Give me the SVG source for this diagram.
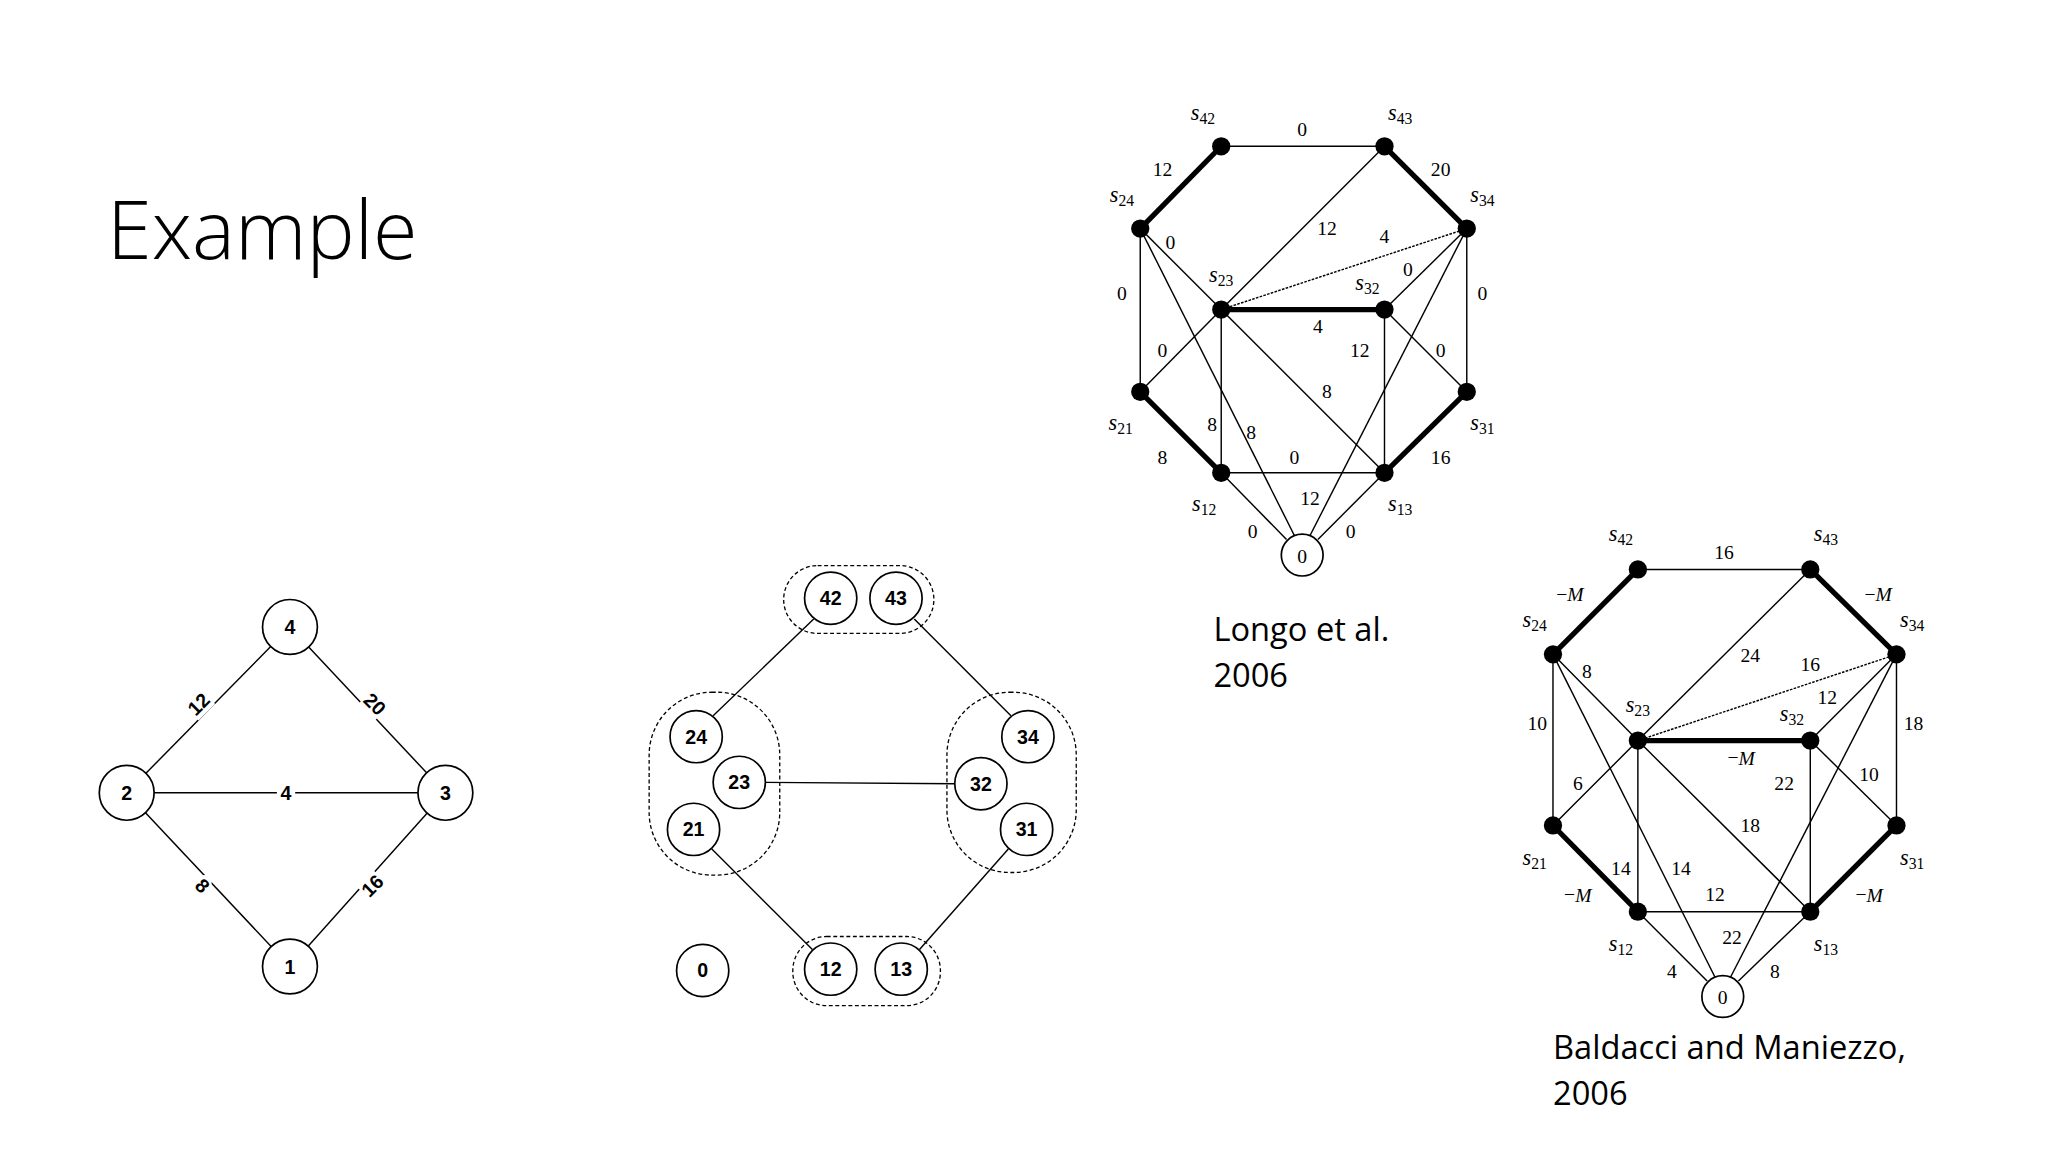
<svg xmlns="http://www.w3.org/2000/svg" width="2048" height="1152" viewBox="0 0 2048 1152">
<style>
.t{font-family:"Open Sans","Liberation Sans",sans-serif;fill:#000}
.c{fill:#fff;stroke:#000;stroke-width:1.3}
.b{font-family:"Liberation Sans",Arial,sans-serif;font-weight:bold;font-size:15px;text-anchor:middle;dominant-baseline:central}
.e{stroke:#000;stroke-width:1.1;fill:none}
.k{stroke:#000;stroke-width:4;fill:none}
.d{fill:none;stroke:#000;stroke-width:1;stroke-dasharray:3 2}
.n{font-family:"Liberation Serif","DejaVu Serif",serif;font-size:15px;text-anchor:middle;dominant-baseline:central}
.s{font-family:"Liberation Serif","DejaVu Serif",serif;font-style:italic;font-size:17px;text-anchor:middle}
.s tspan{font-style:normal;font-size:12px}
.dot{fill:#000}
</style>
<rect width="2048" height="1152" fill="#fff"/>
<g transform="scale(1.30612)">
<text class="t" x="82" y="198" font-size="62" font-weight="300">Example</text>

<!-- left graph -->
<g id="conn-left">
<line class="e" x1="222" y1="480" x2="97" y2="607"/><line class="e" x1="222" y1="480" x2="341" y2="607"/>
<line class="e" x1="97" y1="607" x2="341" y2="607"/><line class="e" x1="97" y1="607" x2="222" y2="740"/>
<line class="e" x1="341" y1="607" x2="222" y2="740"/>
<g fill="#fff"><rect x="143" y="530" width="18" height="18" transform="rotate(-45 152 539)"/><rect x="278" y="530" width="18" height="18" transform="rotate(45 287 539)"/><rect x="212" y="599" width="14" height="16"/><rect x="148" y="670" width="14" height="16"/><rect x="276" y="669" width="18" height="18" transform="rotate(-45 285 678)"/></g>
<text class="b" transform="translate(152 539) rotate(-45)">12</text>
<text class="b" transform="translate(287 539) rotate(45)">20</text>
<text class="b" x="219" y="607">4</text>
<text class="b" transform="translate(155 678) rotate(45)">8</text>
<text class="b" transform="translate(285 678) rotate(-45)">16</text>
</g>
<g id="n4"><circle class="c" cx="222" cy="480" r="21"/><text class="b" x="222" y="480">4</text></g>
<g id="n2"><circle class="c" cx="97" cy="607" r="21"/><text class="b" x="97" y="607">2</text></g>
<g id="n3"><circle class="c" cx="341" cy="607" r="21"/><text class="b" x="341" y="607">3</text></g>
<g id="n1"><circle class="c" cx="222" cy="740" r="21"/><text class="b" x="222" y="740">1</text></g>

<!-- middle graph -->
<g id="clusters">
<rect class="d" x="600" y="433" width="115" height="52" rx="26"/>
<rect class="d" x="607" y="717" width="113" height="53" rx="26"/>
<rect class="d" x="497" y="530" width="100" height="140" rx="48"/>
<rect class="d" x="725" y="530" width="99" height="138" rx="48"/>
</g>
<g id="conn-mid">
<line class="e" x1="623" y1="474" x2="546" y2="548"/>
<line class="e" x1="700" y1="474" x2="774" y2="548"/>
<line class="e" x1="586" y1="599" x2="731" y2="600"/>
<line class="e" x1="545" y1="650" x2="622" y2="727"/>
<line class="e" x1="772" y1="650" x2="704" y2="727"/>
</g>
<g id="m42"><circle class="c" cx="636" cy="458" r="20"/><text class="b" x="636" y="458">42</text></g>
<g id="m43"><circle class="c" cx="686" cy="458" r="20"/><text class="b" x="686" y="458">43</text></g>
<g id="m24"><circle class="c" cx="533" cy="564" r="20"/><text class="b" x="533" y="564">24</text></g>
<g id="m23"><circle class="c" cx="566" cy="599" r="20"/><text class="b" x="566" y="599">23</text></g>
<g id="m21"><circle class="c" cx="531" cy="635" r="20"/><text class="b" x="531" y="635">21</text></g>
<g id="m34"><circle class="c" cx="787" cy="564" r="20"/><text class="b" x="787" y="564">34</text></g>
<g id="m32"><circle class="c" cx="751" cy="600" r="20"/><text class="b" x="751" y="600">32</text></g>
<g id="m31"><circle class="c" cx="786" cy="635" r="20"/><text class="b" x="786" y="635">31</text></g>
<g id="m0"><circle class="c" cx="538" cy="743" r="20"/><text class="b" x="538" y="743">0</text></g>
<g id="m12"><circle class="c" cx="636" cy="742" r="20"/><text class="b" x="636" y="742">12</text></g>
<g id="m13"><circle class="c" cx="690" cy="742" r="20"/><text class="b" x="690" y="742">13</text></g>

<!-- Longo graph -->
<g id="conn-longo">
<line class="e" x1="935" y1="112" x2="1060" y2="112"/>
<line class="k" x1="935" y1="112" x2="873" y2="175"/>
<line class="k" x1="1060" y1="112" x2="1123" y2="175"/>
<line class="e" x1="873" y1="175" x2="873" y2="300"/>
<line class="e" x1="1123" y1="175" x2="1123" y2="300"/>
<line class="k" x1="873" y1="300" x2="935" y2="362"/>
<line class="k" x1="1123" y1="300" x2="1060" y2="362"/>
<line class="e" x1="935" y1="362" x2="1060" y2="362"/>
<line class="k" x1="935" y1="237" x2="1060" y2="237"/>
<line class="e" x1="873" y1="175" x2="935" y2="237"/>
<line class="e" x1="873" y1="175" x2="991" y2="410"/>
<line class="e" x1="1060" y1="112" x2="935" y2="237" stroke="#777"/>
<line class="e" x1="1123" y1="175" x2="935" y2="237" stroke-dasharray="2 1"/>
<line class="e" x1="1123" y1="175" x2="1060" y2="237"/>
<line class="e" x1="1123" y1="175" x2="1003" y2="410"/>
<line class="e" x1="935" y1="237" x2="873" y2="300"/>
<line class="e" x1="935" y1="237" x2="935" y2="362"/>
<line class="e" x1="935" y1="237" x2="1060" y2="362"/>
<line class="e" x1="1060" y1="237" x2="1060" y2="362"/>
<line class="e" x1="1060" y1="237" x2="1123" y2="300"/>
<line class="e" x1="935" y1="362" x2="985" y2="413" stroke-width="1.8"/>
<line class="e" x1="1060" y1="362" x2="1009" y2="413"/>
</g>
<g id="longo-nodes" class="dot">
<circle cx="935" cy="112" r="7"/><circle cx="1060" cy="112" r="7"/><circle cx="873" cy="175" r="7"/><circle cx="1123" cy="175" r="7"/>
<circle cx="935" cy="237" r="7"/><circle cx="1060" cy="237" r="7"/><circle cx="873" cy="300" r="7"/><circle cx="1123" cy="300" r="7"/>
<circle cx="935" cy="362" r="7"/><circle cx="1060" cy="362" r="7"/>
</g>
<g id="longo-0"><circle class="c" cx="997" cy="425" r="16"/><text class="n" x="997" y="426" font-size="19">0</text></g>
<g id="longo-labels">
<text class="s" x="921" y="92">s<tspan dy="3">42</tspan></text>
<text class="s" x="1072" y="92">s<tspan dy="3">43</tspan></text>
<text class="s" x="859" y="155">s<tspan dy="3">24</tspan></text>
<text class="s" x="1135" y="155">s<tspan dy="3">34</tspan></text>
<text class="s" x="935" y="216">s<tspan dy="3">23</tspan></text>
<text class="s" x="1047" y="222">s<tspan dy="3">32</tspan></text>
<text class="s" x="858" y="329">s<tspan dy="3">21</tspan></text>
<text class="s" x="1135" y="329">s<tspan dy="3">31</tspan></text>
<text class="s" x="922" y="391">s<tspan dy="3">12</tspan></text>
<text class="s" x="1072" y="391">s<tspan dy="3">13</tspan></text>
<text class="n" x="997" y="99">0</text><text class="n" x="890" y="130">12</text><text class="n" x="1103" y="130">20</text>
<text class="n" x="896" y="186">0</text><text class="n" x="1016" y="175">12</text><text class="n" x="1060" y="181">4</text>
<text class="n" x="859" y="225">0</text><text class="n" x="1078" y="206">0</text><text class="n" x="1135" y="225">0</text>
<text class="n" x="1009" y="250">4</text><text class="n" x="1041" y="268">12</text><text class="n" x="1103" y="268">0</text>
<text class="n" x="890" y="268">0</text><text class="n" x="1016" y="300">8</text><text class="n" x="928" y="325">8</text>
<text class="n" x="958" y="331">8</text><text class="n" x="890" y="350">8</text><text class="n" x="991" y="350">0</text>
<text class="n" x="1103" y="350">16</text><text class="n" x="1003" y="382">12</text><text class="n" x="959" y="407">0</text>
<text class="n" x="1034" y="407">0</text>
</g>
<text class="t" x="929" y="491" font-size="25">Longo et al.</text>
<text class="t" x="929" y="526" font-size="25">2006</text>

<!-- Baldacci graph -->
<g id="conn-bald">
<line class="e" x1="1254" y1="436" x2="1386" y2="436"/>
<line class="k" x1="1254" y1="436" x2="1189" y2="501"/>
<line class="k" x1="1386" y1="436" x2="1452" y2="501"/>
<line class="e" x1="1189" y1="501" x2="1189" y2="632"/>
<line class="e" x1="1452" y1="501" x2="1452" y2="632"/>
<line class="k" x1="1189" y1="632" x2="1254" y2="698"/>
<line class="k" x1="1452" y1="632" x2="1386" y2="698"/>
<line class="e" x1="1254" y1="698" x2="1386" y2="698"/>
<line class="k" x1="1254" y1="567" x2="1386" y2="567"/>
<line class="e" x1="1189" y1="501" x2="1254" y2="567"/>
<line class="e" x1="1189" y1="501" x2="1313" y2="748"/>
<line class="e" x1="1386" y1="436" x2="1254" y2="567"/>
<line class="e" x1="1452" y1="501" x2="1254" y2="567" stroke-dasharray="2 1"/>
<line class="e" x1="1452" y1="501" x2="1386" y2="567"/>
<line class="e" x1="1452" y1="501" x2="1325" y2="748"/>
<line class="e" x1="1254" y1="567" x2="1189" y2="632"/>
<line class="e" x1="1254" y1="567" x2="1254" y2="698"/>
<line class="e" x1="1254" y1="567" x2="1386" y2="698"/>
<line class="e" x1="1386" y1="567" x2="1386" y2="698"/>
<line class="e" x1="1386" y1="567" x2="1452" y2="632"/>
<line class="e" x1="1254" y1="698" x2="1307" y2="751" stroke-width="1.6"/>
<line class="e" x1="1386" y1="698" x2="1331" y2="751"/>
</g>
<g id="bald-nodes" class="dot">
<circle cx="1254" cy="436" r="7"/><circle cx="1386" cy="436" r="7"/><circle cx="1189" cy="501" r="7"/><circle cx="1452" cy="501" r="7"/>
<circle cx="1254" cy="567" r="7"/><circle cx="1386" cy="567" r="7"/><circle cx="1189" cy="632" r="7"/><circle cx="1452" cy="632" r="7"/>
<circle cx="1254" cy="698" r="7"/><circle cx="1386" cy="698" r="7"/>
</g>
<g id="bald-0"><circle class="c" cx="1319" cy="763" r="16"/><text class="n" x="1319" y="764" font-size="19">0</text></g>
<g id="bald-labels">
<text class="s" x="1241" y="414">s<tspan dy="3">42</tspan></text>
<text class="s" x="1398" y="414">s<tspan dy="3">43</tspan></text>
<text class="s" x="1175" y="480">s<tspan dy="3">24</tspan></text>
<text class="s" x="1464" y="480">s<tspan dy="3">34</tspan></text>
<text class="s" x="1254" y="545">s<tspan dy="3">23</tspan></text>
<text class="s" x="1372" y="552">s<tspan dy="3">32</tspan></text>
<text class="s" x="1175" y="662">s<tspan dy="3">21</tspan></text>
<text class="s" x="1464" y="662">s<tspan dy="3">31</tspan></text>
<text class="s" x="1241" y="728">s<tspan dy="3">12</tspan></text>
<text class="s" x="1398" y="728">s<tspan dy="3">13</tspan></text>
<text class="n" x="1320" y="423">16</text>
<text class="n" x="1202" y="455">−<tspan font-style="italic">M</tspan></text>
<text class="n" x="1438" y="455">−<tspan font-style="italic">M</tspan></text>
<text class="n" x="1215" y="514">8</text><text class="n" x="1340" y="502">24</text><text class="n" x="1386" y="509">16</text>
<text class="n" x="1399" y="534">12</text><text class="n" x="1177" y="554">10</text><text class="n" x="1465" y="554">18</text>
<text class="n" x="1333" y="580">−<tspan font-style="italic">M</tspan></text>
<text class="n" x="1208" y="600">6</text><text class="n" x="1366" y="600">22</text><text class="n" x="1431" y="593">10</text>
<text class="n" x="1340" y="632">18</text><text class="n" x="1241" y="665">14</text><text class="n" x="1287" y="665">14</text>
<text class="n" x="1208" y="685">−<tspan font-style="italic">M</tspan></text>
<text class="n" x="1313" y="685">12</text>
<text class="n" x="1431" y="685">−<tspan font-style="italic">M</tspan></text>
<text class="n" x="1326" y="718">22</text><text class="n" x="1280" y="744">4</text><text class="n" x="1359" y="744">8</text>
</g>
<text class="t" x="1189" y="811" font-size="25">Baldacci and Maniezzo,</text>
<text class="t" x="1189" y="846" font-size="25">2006</text>
</g>
</svg>
